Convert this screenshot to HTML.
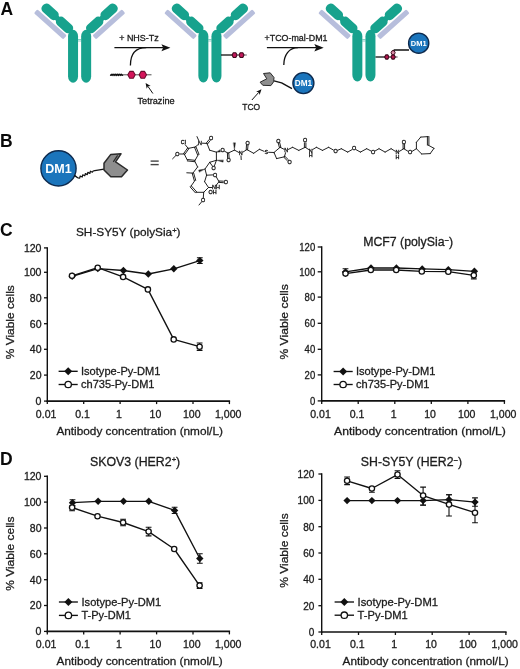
<!DOCTYPE html>
<html lang="en"><head><meta charset="utf-8"><title>Figure</title>
<style>
html,body{margin:0;padding:0;background:#fff;}
svg{display:block;font-family:"Liberation Sans", Arial, Helvetica, sans-serif;}
</style></head>
<body>
<svg width="520" height="669" viewBox="0 0 520 669">
<rect width="520" height="669" fill="#fff"/>
<text x="0.6" y="15.0" font-size="17.5" text-anchor="start" font-weight="bold" fill="#0a0a0a">A</text>
<rect x="-19.69" y="-2.65" width="39.38" height="5.30" rx="1.4" fill="#b7bedc" transform="translate(108.90,24.30) rotate(138.29)"/>
<rect x="-19.69" y="-2.65" width="39.38" height="5.30" rx="1.4" fill="#b7bedc" transform="translate(50.30,24.30) rotate(41.71)"/>
<rect x="-9.63" y="-4.90" width="19.26" height="9.80" rx="4.2" fill="#17a28d" transform="translate(109.12,11.76) rotate(137.62)"/>
<rect x="-9.63" y="-4.90" width="19.26" height="9.80" rx="4.2" fill="#17a28d" transform="translate(94.68,24.94) rotate(137.62)"/>
<rect x="-2.50" y="-2.70" width="5.00" height="5.40" rx="0" fill="#17a28d" transform="translate(101.90,18.35) rotate(137.62)"/>
<rect x="-9.63" y="-4.90" width="19.26" height="9.80" rx="4.2" fill="#17a28d" transform="translate(50.08,11.76) rotate(42.38)"/>
<rect x="-9.63" y="-4.90" width="19.26" height="9.80" rx="4.2" fill="#17a28d" transform="translate(64.52,24.94) rotate(42.38)"/>
<rect x="-2.50" y="-2.70" width="5.00" height="5.40" rx="0" fill="#17a28d" transform="translate(57.30,18.35) rotate(42.38)"/>
<rect x="68.05" y="29.8" width="10" height="52.9" rx="5" ry="6.5" fill="#17a28d"/>
<rect x="81.15" y="29.8" width="10" height="52.9" rx="5" ry="6.5" fill="#17a28d"/>
<line x1="78.0" y1="39.5" x2="81.19999999999999" y2="39.5" stroke="#17a28d" stroke-width="0.5"/>
<line x1="78.0" y1="41" x2="81.19999999999999" y2="41" stroke="#17a28d" stroke-width="0.5"/>
<rect x="-19.69" y="-2.65" width="39.38" height="5.30" rx="1.4" fill="#b7bedc" transform="translate(239.20,24.30) rotate(138.29)"/>
<rect x="-19.69" y="-2.65" width="39.38" height="5.30" rx="1.4" fill="#b7bedc" transform="translate(180.60,24.30) rotate(41.71)"/>
<rect x="-9.63" y="-4.90" width="19.26" height="9.80" rx="4.2" fill="#17a28d" transform="translate(239.42,11.76) rotate(137.62)"/>
<rect x="-9.63" y="-4.90" width="19.26" height="9.80" rx="4.2" fill="#17a28d" transform="translate(224.98,24.94) rotate(137.62)"/>
<rect x="-2.50" y="-2.70" width="5.00" height="5.40" rx="0" fill="#17a28d" transform="translate(232.20,18.35) rotate(137.62)"/>
<rect x="-9.63" y="-4.90" width="19.26" height="9.80" rx="4.2" fill="#17a28d" transform="translate(180.38,11.76) rotate(42.38)"/>
<rect x="-9.63" y="-4.90" width="19.26" height="9.80" rx="4.2" fill="#17a28d" transform="translate(194.82,24.94) rotate(42.38)"/>
<rect x="-2.50" y="-2.70" width="5.00" height="5.40" rx="0" fill="#17a28d" transform="translate(187.60,18.35) rotate(42.38)"/>
<rect x="198.35" y="29.8" width="10" height="52.7" rx="5" ry="6.5" fill="#17a28d"/>
<rect x="211.45" y="29.8" width="10" height="52.7" rx="5" ry="6.5" fill="#17a28d"/>
<line x1="208.3" y1="39.5" x2="211.5" y2="39.5" stroke="#17a28d" stroke-width="0.5"/>
<line x1="208.3" y1="41" x2="211.5" y2="41" stroke="#17a28d" stroke-width="0.5"/>
<rect x="-19.69" y="-2.65" width="39.38" height="5.30" rx="1.4" fill="#b7bedc" transform="translate(393.20,24.30) rotate(138.29)"/>
<rect x="-19.69" y="-2.65" width="39.38" height="5.30" rx="1.4" fill="#b7bedc" transform="translate(334.60,24.30) rotate(41.71)"/>
<rect x="-9.63" y="-4.90" width="19.26" height="9.80" rx="4.2" fill="#17a28d" transform="translate(393.42,11.76) rotate(137.62)"/>
<rect x="-9.63" y="-4.90" width="19.26" height="9.80" rx="4.2" fill="#17a28d" transform="translate(378.98,24.94) rotate(137.62)"/>
<rect x="-2.50" y="-2.70" width="5.00" height="5.40" rx="0" fill="#17a28d" transform="translate(386.20,18.35) rotate(137.62)"/>
<rect x="-9.63" y="-4.90" width="19.26" height="9.80" rx="4.2" fill="#17a28d" transform="translate(334.38,11.76) rotate(42.38)"/>
<rect x="-9.63" y="-4.90" width="19.26" height="9.80" rx="4.2" fill="#17a28d" transform="translate(348.82,24.94) rotate(42.38)"/>
<rect x="-2.50" y="-2.70" width="5.00" height="5.40" rx="0" fill="#17a28d" transform="translate(341.60,18.35) rotate(42.38)"/>
<rect x="352.35" y="29.8" width="10" height="51.7" rx="5" ry="6.5" fill="#17a28d"/>
<rect x="365.45" y="29.8" width="10" height="51.7" rx="5" ry="6.5" fill="#17a28d"/>
<line x1="362.29999999999995" y1="39.5" x2="365.5" y2="39.5" stroke="#17a28d" stroke-width="0.5"/>
<line x1="362.29999999999995" y1="41" x2="365.5" y2="41" stroke="#17a28d" stroke-width="0.5"/>
<text x="119.2" y="41" font-size="8.8" text-anchor="start" font-weight="normal" fill="#1c1c1c" stroke="#1c1c1c" stroke-width="0.3" textLength="39.5" lengthAdjust="spacingAndGlyphs">+ NHS-Tz</text>
<line x1="114.4" y1="47.7" x2="163.2" y2="47.7" stroke="#111" stroke-width="1.3"/><polygon points="170.4,47.7 161.4,51.2 163.2,47.7 161.4,44.2" fill="#111"/>
<path d="M130.4 65.6 C130.4 54 136 47.7 146.2 47.7" fill="none" stroke="#111" stroke-width="1.3"/>
<polyline points="110.2,74.8 111.1,75.3 112.0,74.3 112.9,75.3 113.9,74.3 114.8,75.3 115.7,74.3 116.6,75.3 117.5,74.3 118.4,75.3 119.3,74.3 120.3,75.3 121.2,74.3 122.1,75.3 123.0,74.8" fill="none" stroke="#111" stroke-width="1.6" stroke-linejoin="round"/>
<line x1="123" y1="74.8" x2="151.5" y2="74.8" stroke="#222" stroke-width="0.8"/>
<polygon points="127.8,74.8 129.7,71.4 133.3,71.4 135.2,74.8 133.3,78.2 129.7,78.2" fill="#d4145a" stroke="#6a0d2e" stroke-width="1.1" stroke-linejoin="round"/>
<polygon points="139.2,74.8 141.0,71.4 144.6,71.4 146.5,74.8 144.6,78.2 141.0,78.2" fill="#d4145a" stroke="#6a0d2e" stroke-width="1.1" stroke-linejoin="round"/>
<line x1="152.9" y1="93.5" x2="147.9" y2="86.3" stroke="#111" stroke-width="1.0"/><polygon points="145.6,82.9 150.7,86.1 147.9,86.3 146.7,88.8" fill="#111"/>
<text x="137.5" y="103.7" font-size="8.8" text-anchor="start" font-weight="normal" fill="#1c1c1c" stroke="#1c1c1c" stroke-width="0.3" textLength="37.1" lengthAdjust="spacingAndGlyphs">Tetrazine</text>
<line x1="221" y1="55" x2="232.3" y2="55" stroke="#111" stroke-width="1.3"/>
<line x1="232" y1="55" x2="246.8" y2="55" stroke="#222" stroke-width="0.7"/>
<polygon points="232.1,55.1 233.3,52.7 235.8,52.7 237.1,55.1 235.8,57.5 233.3,57.5" fill="#c2185b" stroke="#3d0a1c" stroke-width="1.1" stroke-linejoin="round"/>
<polygon points="239.0,55.1 240.2,52.7 242.8,52.7 244.0,55.1 242.8,57.5 240.2,57.5" fill="#c2185b" stroke="#3d0a1c" stroke-width="1.1" stroke-linejoin="round"/>
<text x="264.6" y="41" font-size="8.8" text-anchor="start" font-weight="normal" fill="#1c1c1c" stroke="#1c1c1c" stroke-width="0.3" textLength="62.9" lengthAdjust="spacingAndGlyphs">+TCO-mal-DM1</text>
<line x1="266.9" y1="47.7" x2="316.2" y2="47.7" stroke="#111" stroke-width="1.3"/><polygon points="323.7,47.7 314.3,51.4 316.2,47.7 314.3,44.0" fill="#111"/>
<path d="M283.8 65 C283.8 55 289 47.7 298 47.7" fill="none" stroke="#111" stroke-width="1.3"/>
<polygon points="263.5,73.5 270.2,72.8 274,77.5 273.6,81.8 270.9,85.6 262.8,85.3 260.1,82.2 266.8,78.8" fill="#8e8e8e" stroke="#2a2a2a" stroke-width="1.0" stroke-linejoin="round"/>
<polyline points="274,80.9 281.6,82.9 292,88.6" fill="none" stroke="#111" stroke-width="1.4" stroke-linejoin="round"/>
<circle cx="303.4" cy="83.1" r="10.5" fill="#1b75bc" stroke="#0d2a4e" stroke-width="1.4"/><text x="303.4" y="86.088" font-size="8.3" text-anchor="middle" font-weight="bold" fill="#fff" textLength="17.4" lengthAdjust="spacingAndGlyphs">DM1</text>
<line x1="251.9" y1="100.0" x2="258.8" y2="92.3" stroke="#111" stroke-width="1.0"/><polygon points="261.5,89.2 259.6,94.9 258.8,92.3 256.1,91.7" fill="#111"/>
<text x="242.3" y="110.2" font-size="8.6" text-anchor="start" font-weight="normal" fill="#1c1c1c" stroke="#1c1c1c" stroke-width="0.3" textLength="17.9" lengthAdjust="spacingAndGlyphs">TCO</text>
<line x1="375.5" y1="57" x2="385" y2="57" stroke="#111" stroke-width="1.3"/><line x1="385" y1="57" x2="397.6" y2="57" stroke="#222" stroke-width="0.8"/>
<polyline points="393.1,51.2 394.3,50.1 409,50.1" fill="none" stroke="#111" stroke-width="1.5"/>
<polygon points="384.6,57.0 385.7,54.9 387.9,54.9 389.0,57.0 387.9,59.1 385.7,59.1" fill="#b5174f" stroke="#3d0a1c" stroke-width="1.1" stroke-linejoin="round"/>
<polygon points="390.9,57.0 392.0,54.9 394.2,54.9 395.3,57.0 394.2,59.1 392.0,59.1" fill="#b5174f" stroke="#3d0a1c" stroke-width="1.1" stroke-linejoin="round"/>
<polygon points="391.0,52.7 392.1,50.7 394.2,50.7 395.2,52.7 394.2,54.7 392.1,54.7" fill="#d98aa6" stroke="#3d0a1c" stroke-width="1.0" stroke-linejoin="round"/>
<circle cx="418.7" cy="43.2" r="10.1" fill="#1b75bc" stroke="#0d2a4e" stroke-width="1.4"/><text x="418.7" y="46.008" font-size="7.8" text-anchor="middle" font-weight="bold" fill="#fff" textLength="15.8" lengthAdjust="spacingAndGlyphs">DM1</text>
<text x="0" y="146.9" font-size="17.5" text-anchor="start" font-weight="bold" fill="#0a0a0a">B</text>
<circle cx="58.5" cy="168.4" r="17.6" fill="#1b75bc" stroke="#0d2a4e" stroke-width="1.4"/><text x="58.5" y="172.9" font-size="12.5" text-anchor="middle" font-weight="bold" fill="#fff">DM1</text>
<line x1="74.4" y1="175.4" x2="78" y2="178" stroke="#111" stroke-width="1.3"/>
<polyline points="78.0,178.0 79.7,178.2 80.2,176.0 82.2,177.0 82.7,174.8 84.8,175.8 85.3,173.6 87.3,174.6 87.8,172.4 89.9,173.4 90.4,171.2 92.4,172.2 93.3,170.8" fill="none" stroke="#111" stroke-width="1.2" stroke-linejoin="round"/>
<line x1="93.3" y1="170.8" x2="104" y2="169.2" stroke="#111" stroke-width="1.3"/>
<polygon points="104.0,163.3 110.8,154.4 121.0,153.8 115.6,161.9 127.5,170.0 121.5,176.7 110.8,176.7 104.0,170.0" fill="#8e8e8e" stroke="#2a2a2a" stroke-width="1.5" stroke-linejoin="round"/><line x1="117.6" y1="155.4" x2="113.3" y2="161.8" stroke="#2a2a2a" stroke-width="1.2000000000000002"/>
<line x1="150.6" y1="161.1" x2="158.7" y2="161.1" stroke="#444" stroke-width="1.4"/>
<line x1="150.6" y1="164.6" x2="158.7" y2="164.6" stroke="#444" stroke-width="1.4"/>
<g stroke="#161616" stroke-width="0.95" stroke-linecap="round" fill="none">
<line x1="188.2" y1="148.4" x2="195.2" y2="147.0"/>
<line x1="194.5" y1="147.3" x2="197.6" y2="154.9"/>
<line x1="195.9" y1="146.7" x2="199.0" y2="154.3"/>
<line x1="198.3" y1="154.6" x2="194.7" y2="161.0"/>
<line x1="194.8" y1="160.3" x2="187.5" y2="159.5"/>
<line x1="194.6" y1="161.7" x2="187.3" y2="160.9"/>
<line x1="187.4" y1="160.2" x2="184.2" y2="154.0"/>
<line x1="184.8" y1="154.4" x2="188.8" y2="148.8"/>
<line x1="183.6" y1="153.6" x2="187.6" y2="148.0"/>
<line x1="188.2" y1="148.4" x2="185.2" y2="144.7"/>
<line x1="195.2" y1="147.0" x2="198.1" y2="144.6"/>
<line x1="198.9" y1="140.9" x2="197.0" y2="136.6"/>
<line x1="184.2" y1="154.0" x2="179.8" y2="154.0"/>
<line x1="175.7" y1="155.7" x2="172.6" y2="158.8"/>
<line x1="202.3" y1="143.2" x2="207.0" y2="143.4"/>
<line x1="207.6" y1="143.9" x2="210.2" y2="140.6"/>
<line x1="206.4" y1="142.9" x2="209.0" y2="139.7"/>
<line x1="207.0" y1="143.4" x2="209.7" y2="150.2"/>
<line x1="209.7" y1="150.2" x2="216.4" y2="152.2"/>
<polygon points="216.4,152.2 220.5,151.9 219.9,150.0" fill="#222" stroke-width="0.3"/>
<line x1="216.4" y1="152.2" x2="216.4" y2="160.3"/>
<polygon points="216.4,160.3 223.1,162.2 223.3,160.2" fill="#222" stroke-width="0.3"/>
<line x1="216.4" y1="160.3" x2="209.7" y2="162.3"/>
<line x1="216.4" y1="160.3" x2="214.5" y2="165.6"/>
<line x1="209.7" y1="162.3" x2="212.3" y2="165.9"/>
<line x1="209.7" y1="162.3" x2="205.0" y2="169.0"/>
<polygon points="205.0,169.0 198.6,170.0 199.2,172.0" fill="#222" stroke-width="0.3"/>
<line x1="205.0" y1="169.0" x2="206.6" y2="175.2"/>
<line x1="206.6" y1="175.2" x2="212.7" y2="174.9"/>
<line x1="216.3" y1="176.9" x2="219.0" y2="181.7"/>
<line x1="219.0" y1="182.4" x2="223.4" y2="182.7"/>
<line x1="219.0" y1="181.0" x2="223.4" y2="181.2"/>
<line x1="219.0" y1="181.7" x2="215.9" y2="185.6"/>
<line x1="212.0" y1="187.5" x2="208.5" y2="187.5"/>
<line x1="208.5" y1="187.5" x2="204.6" y2="181.7"/>
<line x1="204.6" y1="181.7" x2="206.6" y2="175.2"/>
<line x1="208.5" y1="187.5" x2="203.7" y2="192.3"/>
<line x1="203.7" y1="192.3" x2="203.3" y2="197.8"/>
<line x1="201.5" y1="202.0" x2="199.0" y2="205.0"/>
<line x1="203.7" y1="192.3" x2="196.0" y2="192.3"/>
<line x1="196.6" y1="191.8" x2="191.4" y2="186.0"/>
<line x1="195.4" y1="192.8" x2="190.2" y2="187.0"/>
<line x1="190.8" y1="186.5" x2="195.0" y2="180.4"/>
<line x1="195.7" y1="180.2" x2="193.6" y2="172.9"/>
<line x1="194.3" y1="180.6" x2="192.2" y2="173.3"/>
<line x1="192.9" y1="173.1" x2="186.8" y2="172.8"/>
<line x1="192.9" y1="173.1" x2="197.6" y2="167.0"/>
<line x1="197.6" y1="167.0" x2="194.7" y2="161.0"/>
<line x1="224.6" y1="151.3" x2="228.1" y2="153.1"/>
<line x1="227.4" y1="153.1" x2="227.6" y2="157.9"/>
<line x1="228.8" y1="153.1" x2="229.1" y2="157.9"/>
<line x1="228.1" y1="153.1" x2="234.5" y2="150.1"/>
<polygon points="234.5,150.1 235.5,142.8 233.5,142.8" fill="#222" stroke-width="0.3"/>
<line x1="234.5" y1="150.1" x2="238.7" y2="152.4"/>
<line x1="241.0" y1="155.9" x2="241.2" y2="159.6"/>
<line x1="242.8" y1="152.2" x2="246.9" y2="149.6"/>
<line x1="247.6" y1="149.7" x2="248.0" y2="145.2"/>
<line x1="246.2" y1="149.5" x2="246.5" y2="145.0"/>
<line x1="246.9" y1="149.6" x2="253.7" y2="153.3"/>
<line x1="253.7" y1="153.3" x2="259.4" y2="149.3"/>
<line x1="259.4" y1="149.3" x2="264.0" y2="151.3"/>
<line x1="268.6" y1="152.3" x2="274.0" y2="152.5"/>
<line x1="274.0" y1="152.5" x2="280.1" y2="147.3"/>
<line x1="280.8" y1="147.1" x2="279.7" y2="142.8"/>
<line x1="279.4" y1="147.5" x2="278.3" y2="143.2"/>
<line x1="280.1" y1="147.3" x2="284.1" y2="149.3"/>
<line x1="285.6" y1="152.7" x2="284.4" y2="156.8"/>
<line x1="283.9" y1="157.3" x2="287.4" y2="160.8"/>
<line x1="284.9" y1="156.3" x2="288.4" y2="159.8"/>
<line x1="284.4" y1="156.8" x2="276.6" y2="158.6"/>
<line x1="276.6" y1="158.6" x2="274.0" y2="152.5"/>
<line x1="288.4" y1="149.4" x2="292.6" y2="147.3"/>
<line x1="292.6" y1="147.3" x2="298.8" y2="150.4"/>
<line x1="298.8" y1="150.4" x2="305.2" y2="147.3"/>
<line x1="305.9" y1="147.3" x2="305.9" y2="142.8"/>
<line x1="304.4" y1="147.3" x2="304.4" y2="142.8"/>
<line x1="305.2" y1="147.3" x2="308.7" y2="149.5"/>
<line x1="312.7" y1="149.5" x2="316.4" y2="147.3"/>
<line x1="316.4" y1="147.3" x2="322.5" y2="150.4"/>
<line x1="322.5" y1="150.4" x2="328.6" y2="147.3"/>
<line x1="328.6" y1="147.3" x2="333.4" y2="150.0"/>
<line x1="337.7" y1="150.3" x2="341.3" y2="148.7"/>
<line x1="341.3" y1="148.7" x2="347.7" y2="152.1"/>
<line x1="347.7" y1="152.1" x2="351.9" y2="149.7"/>
<line x1="356.1" y1="149.7" x2="360.4" y2="152.1"/>
<line x1="360.4" y1="152.1" x2="366.7" y2="148.7"/>
<line x1="366.7" y1="148.7" x2="371.0" y2="151.0"/>
<line x1="375.2" y1="150.9" x2="379.0" y2="148.7"/>
<line x1="379.0" y1="148.7" x2="385.1" y2="152.1"/>
<line x1="385.1" y1="152.1" x2="391.1" y2="148.7"/>
<line x1="391.1" y1="148.7" x2="395.3" y2="151.3"/>
<line x1="399.5" y1="151.3" x2="403.8" y2="148.7"/>
<line x1="404.6" y1="148.7" x2="404.6" y2="144.3"/>
<line x1="403.1" y1="148.7" x2="403.1" y2="144.3"/>
<line x1="403.8" y1="148.7" x2="408.0" y2="151.3"/>
<line x1="412.2" y1="151.3" x2="416.4" y2="148.7"/>
<line x1="416.4" y1="148.7" x2="416.4" y2="142.3"/>
<line x1="416.4" y1="142.3" x2="420.7" y2="137.1"/>
<line x1="420.7" y1="137.1" x2="428.1" y2="136.6"/>
<line x1="427.4" y1="136.6" x2="427.4" y2="145.1"/>
<line x1="428.9" y1="136.6" x2="428.9" y2="145.1"/>
<line x1="428.1" y1="145.1" x2="434.0" y2="148.3"/>
<line x1="434.0" y1="148.3" x2="430.2" y2="153.6"/>
<line x1="430.2" y1="153.6" x2="421.7" y2="154.0"/>
<line x1="421.7" y1="154.0" x2="416.4" y2="148.7"/>
</g>
<g font-size="5.4" fill="#111" stroke="#111" stroke-width="0.3" text-anchor="middle">
<text x="183.3" y="144.2">Cl</text>
<text x="199.9" y="144.9">N</text>
<text x="177.4" y="155.8">O</text>
<text x="211.1" y="140.1">O</text>
<text x="222.5" y="152.0">O</text>
<text x="213.7" y="169.7">O</text>
<text x="215.1" y="176.6">O</text>
<text x="225.8" y="183.9">O</text>
<text x="215.9" y="189.3">NH</text>
<text x="212.5" y="193.8">OH</text>
<text x="203.1" y="202.0">O</text>
<text x="228.5" y="162.1">O</text>
<text x="240.8" y="155.3">N</text>
<text x="247.5" y="144.5">O</text>
<text x="266.2" y="154.0">S</text>
<text x="278.4" y="142.5">O</text>
<text x="286.2" y="152.2">N</text>
<text x="289.6" y="163.8">O</text>
<text x="305.2" y="142.2">O</text>
<text x="310.7" y="152.6">N</text><text x="310.7" y="156.8">H</text>
<text x="335.5" y="153.0">O</text>
<text x="354.0" y="150.3">O</text>
<text x="373.1" y="153.9">O</text>
<text x="397.4" y="154.3">N</text><text x="397.4" y="158.5">H</text>
<text x="403.8" y="143.7">O</text>
<text x="410.1" y="154.3">O</text>
</g>
<text x="0" y="236.3" font-size="17.5" text-anchor="start" font-weight="bold" fill="#0a0a0a">C</text>
<line x1="47.3" y1="247.2" x2="47.3" y2="401.9" stroke="#111" stroke-width="1.4"/>
<line x1="46.6" y1="401.1" x2="230.1" y2="401.1" stroke="#111" stroke-width="1.6"/>
<line x1="44.0" y1="401.1" x2="47.3" y2="401.1" stroke="#111" stroke-width="1.3"/>
<text x="41.5" y="404.9" font-size="10.6" text-anchor="end" font-weight="normal" fill="#1c1c1c" stroke="#1c1c1c" stroke-width="0.3" textLength="5.9" lengthAdjust="spacingAndGlyphs">0</text>
<line x1="44.0" y1="375.1" x2="47.3" y2="375.1" stroke="#111" stroke-width="1.3"/>
<text x="41.5" y="378.9" font-size="10.6" text-anchor="end" font-weight="normal" fill="#1c1c1c" stroke="#1c1c1c" stroke-width="0.3" textLength="11.7" lengthAdjust="spacingAndGlyphs">20</text>
<line x1="44.0" y1="349.3" x2="47.3" y2="349.3" stroke="#111" stroke-width="1.3"/>
<text x="41.5" y="353.1" font-size="10.6" text-anchor="end" font-weight="normal" fill="#1c1c1c" stroke="#1c1c1c" stroke-width="0.3" textLength="11.7" lengthAdjust="spacingAndGlyphs">40</text>
<line x1="44.0" y1="323.7" x2="47.3" y2="323.7" stroke="#111" stroke-width="1.3"/>
<text x="41.5" y="327.5" font-size="10.6" text-anchor="end" font-weight="normal" fill="#1c1c1c" stroke="#1c1c1c" stroke-width="0.3" textLength="11.7" lengthAdjust="spacingAndGlyphs">60</text>
<line x1="44.0" y1="297.8" x2="47.3" y2="297.8" stroke="#111" stroke-width="1.3"/>
<text x="41.5" y="301.6" font-size="10.6" text-anchor="end" font-weight="normal" fill="#1c1c1c" stroke="#1c1c1c" stroke-width="0.3" textLength="11.7" lengthAdjust="spacingAndGlyphs">80</text>
<line x1="44.0" y1="272.3" x2="47.3" y2="272.3" stroke="#111" stroke-width="1.3"/>
<text x="41.5" y="276.1" font-size="10.6" text-anchor="end" font-weight="normal" fill="#1c1c1c" stroke="#1c1c1c" stroke-width="0.3" textLength="17.6" lengthAdjust="spacingAndGlyphs">100</text>
<line x1="44.0" y1="247.9" x2="47.3" y2="247.9" stroke="#111" stroke-width="1.3"/>
<text x="41.5" y="251.7" font-size="10.6" text-anchor="end" font-weight="normal" fill="#1c1c1c" stroke="#1c1c1c" stroke-width="0.3" textLength="17.6" lengthAdjust="spacingAndGlyphs">120</text>
<line x1="47.3" y1="401.1" x2="47.3" y2="404.1" stroke="#111" stroke-width="1.3"/>
<text x="46.1" y="418.3" font-size="10.6" text-anchor="middle" font-weight="normal" fill="#1c1c1c" stroke="#1c1c1c" stroke-width="0.3" textLength="20.5" lengthAdjust="spacingAndGlyphs">0.01</text>
<line x1="83.7" y1="401.1" x2="83.7" y2="404.1" stroke="#111" stroke-width="1.3"/>
<text x="82.5" y="418.3" font-size="10.6" text-anchor="middle" font-weight="normal" fill="#1c1c1c" stroke="#1c1c1c" stroke-width="0.3" textLength="14.7" lengthAdjust="spacingAndGlyphs">0.1</text>
<line x1="120.1" y1="401.1" x2="120.1" y2="404.1" stroke="#111" stroke-width="1.3"/>
<text x="118.9" y="418.3" font-size="10.6" text-anchor="middle" font-weight="normal" fill="#1c1c1c" stroke="#1c1c1c" stroke-width="0.3" textLength="5.9" lengthAdjust="spacingAndGlyphs">1</text>
<line x1="156.6" y1="401.1" x2="156.6" y2="404.1" stroke="#111" stroke-width="1.3"/>
<text x="155.4" y="418.3" font-size="10.6" text-anchor="middle" font-weight="normal" fill="#1c1c1c" stroke="#1c1c1c" stroke-width="0.3" textLength="11.7" lengthAdjust="spacingAndGlyphs">10</text>
<line x1="193.0" y1="401.1" x2="193.0" y2="404.1" stroke="#111" stroke-width="1.3"/>
<text x="191.8" y="418.3" font-size="10.6" text-anchor="middle" font-weight="normal" fill="#1c1c1c" stroke="#1c1c1c" stroke-width="0.3" textLength="17.6" lengthAdjust="spacingAndGlyphs">100</text>
<line x1="229.4" y1="401.1" x2="229.4" y2="404.1" stroke="#111" stroke-width="1.3"/>
<text x="228.2" y="418.3" font-size="10.6" text-anchor="middle" font-weight="normal" fill="#1c1c1c" stroke="#1c1c1c" stroke-width="0.3" textLength="26.4" lengthAdjust="spacingAndGlyphs">1,000</text>
<text x="76.0" y="236.2" font-size="11.8" text-anchor="start" font-weight="normal" fill="#1c1c1c" stroke="#1c1c1c" stroke-width="0.3">SH-SY5Y (polySia<tspan dy="-3.4" font-size="7.6">+</tspan><tspan dy="3.4">)</tspan></text>
<text x="56.4" y="435.3" font-size="11.8" text-anchor="start" font-weight="normal" fill="#1c1c1c" stroke="#1c1c1c" stroke-width="0.3" textLength="166.5" lengthAdjust="spacingAndGlyphs">Antibody concentration (nmol/L)</text>
<text transform="translate(14.4,359.2) rotate(-90)" font-size="11.8" fill="#1c1c1c" stroke="#1c1c1c" stroke-width="0.3" textLength="74" lengthAdjust="spacingAndGlyphs">% Viable cells</text>
<polyline points="72.2,276.3 97.8,268.6 123.4,270.5 148.3,274.0 173.8,268.8 199.8,260.6" fill="none" stroke="#111" stroke-width="1.35" stroke-linejoin="round"/>
<path d="M199.8 257.7 V263.5 M196.9 257.7 h5.8 M196.9 263.5 h5.8" stroke="#111" stroke-width="1.1" fill="none"/>
<polygon points="68.5,276.3 72.2,272.6 75.9,276.3 72.2,280.0" fill="#111"/>
<polygon points="94.1,268.6 97.8,264.9 101.5,268.6 97.8,272.3" fill="#111"/>
<polygon points="119.7,270.5 123.4,266.8 127.1,270.5 123.4,274.2" fill="#111"/>
<polygon points="144.6,274.0 148.3,270.3 152.0,274.0 148.3,277.7" fill="#111"/>
<polygon points="170.1,268.8 173.8,265.1 177.5,268.8 173.8,272.5" fill="#111"/>
<polygon points="196.1,260.6 199.8,256.9 203.5,260.6 199.8,264.3" fill="#111"/>
<polyline points="72.0,275.8 97.7,267.7 123.1,276.9 147.9,289.4 173.7,339.4 199.6,346.7" fill="none" stroke="#111" stroke-width="1.35" stroke-linejoin="round"/>
<path d="M199.6 343.0 V350.4 M196.7 343.0 h5.8 M196.7 350.4 h5.8" stroke="#111" stroke-width="1.1" fill="none"/>
<circle cx="72.0" cy="275.8" r="2.65" fill="#fff" stroke="#111" stroke-width="1.3"/>
<circle cx="97.7" cy="267.7" r="2.65" fill="#fff" stroke="#111" stroke-width="1.3"/>
<circle cx="123.1" cy="276.9" r="2.65" fill="#fff" stroke="#111" stroke-width="1.3"/>
<circle cx="147.9" cy="289.4" r="2.65" fill="#fff" stroke="#111" stroke-width="1.3"/>
<circle cx="173.7" cy="339.4" r="2.65" fill="#fff" stroke="#111" stroke-width="1.3"/>
<circle cx="199.6" cy="346.7" r="2.65" fill="#fff" stroke="#111" stroke-width="1.3"/>
<line x1="58.6" y1="371.3" x2="77.7" y2="371.3" stroke="#111" stroke-width="1.35"/>
<polygon points="64.2,371.3 68.2,367.3 72.2,371.3 68.2,375.3" fill="#111"/>
<text x="81.0" y="374.9" font-size="11.1" text-anchor="start" font-weight="normal" fill="#1c1c1c" stroke="#1c1c1c" stroke-width="0.3" textLength="79.4" lengthAdjust="spacingAndGlyphs">Isotype-Py-DM1</text>
<line x1="58.6" y1="384.5" x2="77.7" y2="384.5" stroke="#111" stroke-width="1.35"/>
<circle cx="68.2" cy="384.5" r="3.2" fill="#fff" stroke="#111" stroke-width="1.3"/>
<text x="81.0" y="388.3" font-size="11.1" text-anchor="start" font-weight="normal" fill="#1c1c1c" stroke="#1c1c1c" stroke-width="0.3" textLength="73.5" lengthAdjust="spacingAndGlyphs">ch735-Py-DM1</text>
<line x1="321.7" y1="246.3" x2="321.7" y2="401.7" stroke="#111" stroke-width="1.4"/>
<line x1="321.0" y1="400.9" x2="505.1" y2="400.9" stroke="#111" stroke-width="1.6"/>
<line x1="317.7" y1="400.9" x2="321.7" y2="400.9" stroke="#111" stroke-width="1.3"/>
<text x="315.2" y="404.7" font-size="10.4" text-anchor="end" font-weight="normal" fill="#1c1c1c" stroke="#1c1c1c" stroke-width="0.3" textLength="5.3" lengthAdjust="spacingAndGlyphs">0</text>
<line x1="317.7" y1="374.9" x2="321.7" y2="374.9" stroke="#111" stroke-width="1.3"/>
<text x="315.2" y="378.7" font-size="10.4" text-anchor="end" font-weight="normal" fill="#1c1c1c" stroke="#1c1c1c" stroke-width="0.3" textLength="10.6" lengthAdjust="spacingAndGlyphs">20</text>
<line x1="317.7" y1="349.3" x2="321.7" y2="349.3" stroke="#111" stroke-width="1.3"/>
<text x="315.2" y="353.1" font-size="10.4" text-anchor="end" font-weight="normal" fill="#1c1c1c" stroke="#1c1c1c" stroke-width="0.3" textLength="10.6" lengthAdjust="spacingAndGlyphs">40</text>
<line x1="317.7" y1="323.3" x2="321.7" y2="323.3" stroke="#111" stroke-width="1.3"/>
<text x="315.2" y="327.1" font-size="10.4" text-anchor="end" font-weight="normal" fill="#1c1c1c" stroke="#1c1c1c" stroke-width="0.3" textLength="10.6" lengthAdjust="spacingAndGlyphs">60</text>
<line x1="317.7" y1="297.1" x2="321.7" y2="297.1" stroke="#111" stroke-width="1.3"/>
<text x="315.2" y="300.9" font-size="10.4" text-anchor="end" font-weight="normal" fill="#1c1c1c" stroke="#1c1c1c" stroke-width="0.3" textLength="10.6" lengthAdjust="spacingAndGlyphs">80</text>
<line x1="317.7" y1="271.8" x2="321.7" y2="271.8" stroke="#111" stroke-width="1.3"/>
<text x="315.2" y="275.6" font-size="10.4" text-anchor="end" font-weight="normal" fill="#1c1c1c" stroke="#1c1c1c" stroke-width="0.3" textLength="15.9" lengthAdjust="spacingAndGlyphs">100</text>
<line x1="317.7" y1="247.0" x2="321.7" y2="247.0" stroke="#111" stroke-width="1.3"/>
<text x="315.2" y="250.8" font-size="10.4" text-anchor="end" font-weight="normal" fill="#1c1c1c" stroke="#1c1c1c" stroke-width="0.3" textLength="15.9" lengthAdjust="spacingAndGlyphs">120</text>
<line x1="321.7" y1="400.9" x2="321.7" y2="403.9" stroke="#111" stroke-width="1.3"/>
<text x="320.5" y="418.3" font-size="10.4" text-anchor="middle" font-weight="normal" fill="#1c1c1c" stroke="#1c1c1c" stroke-width="0.3" textLength="20.5" lengthAdjust="spacingAndGlyphs">0.01</text>
<line x1="358.2" y1="400.9" x2="358.2" y2="403.9" stroke="#111" stroke-width="1.3"/>
<text x="357.0" y="418.3" font-size="10.4" text-anchor="middle" font-weight="normal" fill="#1c1c1c" stroke="#1c1c1c" stroke-width="0.3" textLength="14.7" lengthAdjust="spacingAndGlyphs">0.1</text>
<line x1="394.8" y1="400.9" x2="394.8" y2="403.9" stroke="#111" stroke-width="1.3"/>
<text x="393.6" y="418.3" font-size="10.4" text-anchor="middle" font-weight="normal" fill="#1c1c1c" stroke="#1c1c1c" stroke-width="0.3" textLength="5.9" lengthAdjust="spacingAndGlyphs">1</text>
<line x1="431.3" y1="400.9" x2="431.3" y2="403.9" stroke="#111" stroke-width="1.3"/>
<text x="430.1" y="418.3" font-size="10.4" text-anchor="middle" font-weight="normal" fill="#1c1c1c" stroke="#1c1c1c" stroke-width="0.3" textLength="11.7" lengthAdjust="spacingAndGlyphs">10</text>
<line x1="467.9" y1="400.9" x2="467.9" y2="403.9" stroke="#111" stroke-width="1.3"/>
<text x="466.7" y="418.3" font-size="10.4" text-anchor="middle" font-weight="normal" fill="#1c1c1c" stroke="#1c1c1c" stroke-width="0.3" textLength="17.6" lengthAdjust="spacingAndGlyphs">100</text>
<line x1="504.4" y1="400.9" x2="504.4" y2="403.9" stroke="#111" stroke-width="1.3"/>
<text x="503.2" y="418.3" font-size="10.4" text-anchor="middle" font-weight="normal" fill="#1c1c1c" stroke="#1c1c1c" stroke-width="0.3" textLength="26.4" lengthAdjust="spacingAndGlyphs">1,000</text>
<text x="363.2" y="246.3" font-size="12.3" text-anchor="start" font-weight="normal" fill="#1c1c1c" stroke="#1c1c1c" stroke-width="0.3">MCF7 (polySia<tspan dy="-3.4" font-size="7.6">−</tspan><tspan dy="3.4">)</tspan></text>
<text x="334.1" y="435.1" font-size="11.8" text-anchor="start" font-weight="normal" fill="#1c1c1c" stroke="#1c1c1c" stroke-width="0.3" textLength="171.8" lengthAdjust="spacingAndGlyphs">Antibody concentration (nmol/L)</text>
<text transform="translate(287.9,359.6) rotate(-90)" font-size="11.8" fill="#1c1c1c" stroke="#1c1c1c" stroke-width="0.3" textLength="75.4" lengthAdjust="spacingAndGlyphs">% Viable cells</text>
<polyline points="345.5,271.9 371.0,268.0 396.4,268.0 422.2,268.9 448.3,269.7 474.4,271.3" fill="none" stroke="#111" stroke-width="1.35" stroke-linejoin="round"/>
<path d="M345.5 268.8 V271.9 M342.6 268.8 h5.8 M342.6 271.9 h5.8" stroke="#111" stroke-width="1.1" fill="none"/>
<polygon points="341.8,271.9 345.5,268.2 349.2,271.9 345.5,275.6" fill="#111"/>
<polygon points="367.3,268.0 371.0,264.3 374.7,268.0 371.0,271.7" fill="#111"/>
<polygon points="392.7,268.0 396.4,264.3 400.1,268.0 396.4,271.7" fill="#111"/>
<polygon points="418.5,268.9 422.2,265.2 425.9,268.9 422.2,272.6" fill="#111"/>
<polygon points="444.6,269.7 448.3,266.0 452.0,269.7 448.3,273.4" fill="#111"/>
<polygon points="470.7,271.3 474.4,267.6 478.1,271.3 474.4,275.0" fill="#111"/>
<polyline points="345.5,273.6 370.8,270.0 396.2,270.0 421.8,271.4 448.3,271.7 473.8,275.3" fill="none" stroke="#111" stroke-width="1.35" stroke-linejoin="round"/>
<path d="M473.8 275.3 V278.9 M470.9 275.3 h5.8 M470.9 278.9 h5.8" stroke="#111" stroke-width="1.1" fill="none"/>
<circle cx="345.5" cy="273.6" r="2.65" fill="#fff" stroke="#111" stroke-width="1.3"/>
<circle cx="370.8" cy="270.0" r="2.65" fill="#fff" stroke="#111" stroke-width="1.3"/>
<circle cx="396.2" cy="270.0" r="2.65" fill="#fff" stroke="#111" stroke-width="1.3"/>
<circle cx="421.8" cy="271.4" r="2.65" fill="#fff" stroke="#111" stroke-width="1.3"/>
<circle cx="448.3" cy="271.7" r="2.65" fill="#fff" stroke="#111" stroke-width="1.3"/>
<circle cx="473.8" cy="275.3" r="2.65" fill="#fff" stroke="#111" stroke-width="1.3"/>
<line x1="333.6" y1="371.5" x2="352.7" y2="371.5" stroke="#111" stroke-width="1.35"/>
<polygon points="339.1,371.5 343.1,367.5 347.1,371.5 343.1,375.5" fill="#111"/>
<text x="356.0" y="374.9" font-size="11.1" text-anchor="start" font-weight="normal" fill="#1c1c1c" stroke="#1c1c1c" stroke-width="0.3" textLength="79.4" lengthAdjust="spacingAndGlyphs">Isotype-Py-DM1</text>
<line x1="333.6" y1="384.5" x2="352.7" y2="384.5" stroke="#111" stroke-width="1.35"/>
<circle cx="343.1" cy="384.5" r="3.2" fill="#fff" stroke="#111" stroke-width="1.3"/>
<text x="356.0" y="388.3" font-size="11.1" text-anchor="start" font-weight="normal" fill="#1c1c1c" stroke="#1c1c1c" stroke-width="0.3" textLength="73.5" lengthAdjust="spacingAndGlyphs">ch735-Py-DM1</text>
<text x="0" y="464.6" font-size="17.5" text-anchor="start" font-weight="bold" fill="#0a0a0a">D</text>
<line x1="47.3" y1="475.6" x2="47.3" y2="632.2" stroke="#111" stroke-width="1.4"/>
<line x1="46.6" y1="631.4" x2="230.1" y2="631.4" stroke="#111" stroke-width="1.6"/>
<line x1="44.0" y1="631.4" x2="47.3" y2="631.4" stroke="#111" stroke-width="1.3"/>
<text x="41.5" y="635.2" font-size="10.6" text-anchor="end" font-weight="normal" fill="#1c1c1c" stroke="#1c1c1c" stroke-width="0.3" textLength="5.9" lengthAdjust="spacingAndGlyphs">0</text>
<line x1="44.0" y1="605.5" x2="47.3" y2="605.5" stroke="#111" stroke-width="1.3"/>
<text x="41.5" y="609.3" font-size="10.6" text-anchor="end" font-weight="normal" fill="#1c1c1c" stroke="#1c1c1c" stroke-width="0.3" textLength="11.7" lengthAdjust="spacingAndGlyphs">20</text>
<line x1="44.0" y1="579.7" x2="47.3" y2="579.7" stroke="#111" stroke-width="1.3"/>
<text x="41.5" y="583.5" font-size="10.6" text-anchor="end" font-weight="normal" fill="#1c1c1c" stroke="#1c1c1c" stroke-width="0.3" textLength="11.7" lengthAdjust="spacingAndGlyphs">40</text>
<line x1="44.0" y1="553.8" x2="47.3" y2="553.8" stroke="#111" stroke-width="1.3"/>
<text x="41.5" y="557.6" font-size="10.6" text-anchor="end" font-weight="normal" fill="#1c1c1c" stroke="#1c1c1c" stroke-width="0.3" textLength="11.7" lengthAdjust="spacingAndGlyphs">60</text>
<line x1="44.0" y1="528.0" x2="47.3" y2="528.0" stroke="#111" stroke-width="1.3"/>
<text x="41.5" y="531.8" font-size="10.6" text-anchor="end" font-weight="normal" fill="#1c1c1c" stroke="#1c1c1c" stroke-width="0.3" textLength="11.7" lengthAdjust="spacingAndGlyphs">80</text>
<line x1="44.0" y1="502.1" x2="47.3" y2="502.1" stroke="#111" stroke-width="1.3"/>
<text x="41.5" y="505.9" font-size="10.6" text-anchor="end" font-weight="normal" fill="#1c1c1c" stroke="#1c1c1c" stroke-width="0.3" textLength="17.6" lengthAdjust="spacingAndGlyphs">100</text>
<line x1="44.0" y1="476.3" x2="47.3" y2="476.3" stroke="#111" stroke-width="1.3"/>
<text x="41.5" y="480.1" font-size="10.6" text-anchor="end" font-weight="normal" fill="#1c1c1c" stroke="#1c1c1c" stroke-width="0.3" textLength="17.6" lengthAdjust="spacingAndGlyphs">120</text>
<line x1="47.3" y1="631.4" x2="47.3" y2="634.4" stroke="#111" stroke-width="1.3"/>
<text x="46.1" y="648.4" font-size="10.6" text-anchor="middle" font-weight="normal" fill="#1c1c1c" stroke="#1c1c1c" stroke-width="0.3" textLength="20.5" lengthAdjust="spacingAndGlyphs">0.01</text>
<line x1="83.7" y1="631.4" x2="83.7" y2="634.4" stroke="#111" stroke-width="1.3"/>
<text x="82.5" y="648.4" font-size="10.6" text-anchor="middle" font-weight="normal" fill="#1c1c1c" stroke="#1c1c1c" stroke-width="0.3" textLength="14.7" lengthAdjust="spacingAndGlyphs">0.1</text>
<line x1="120.1" y1="631.4" x2="120.1" y2="634.4" stroke="#111" stroke-width="1.3"/>
<text x="118.9" y="648.4" font-size="10.6" text-anchor="middle" font-weight="normal" fill="#1c1c1c" stroke="#1c1c1c" stroke-width="0.3" textLength="5.9" lengthAdjust="spacingAndGlyphs">1</text>
<line x1="156.6" y1="631.4" x2="156.6" y2="634.4" stroke="#111" stroke-width="1.3"/>
<text x="155.4" y="648.4" font-size="10.6" text-anchor="middle" font-weight="normal" fill="#1c1c1c" stroke="#1c1c1c" stroke-width="0.3" textLength="11.7" lengthAdjust="spacingAndGlyphs">10</text>
<line x1="193.0" y1="631.4" x2="193.0" y2="634.4" stroke="#111" stroke-width="1.3"/>
<text x="191.8" y="648.4" font-size="10.6" text-anchor="middle" font-weight="normal" fill="#1c1c1c" stroke="#1c1c1c" stroke-width="0.3" textLength="17.6" lengthAdjust="spacingAndGlyphs">100</text>
<line x1="229.4" y1="631.4" x2="229.4" y2="634.4" stroke="#111" stroke-width="1.3"/>
<text x="228.2" y="648.4" font-size="10.6" text-anchor="middle" font-weight="normal" fill="#1c1c1c" stroke="#1c1c1c" stroke-width="0.3" textLength="26.4" lengthAdjust="spacingAndGlyphs">1,000</text>
<text x="90.0" y="465.7" font-size="12.35" text-anchor="start" font-weight="normal" fill="#1c1c1c" stroke="#1c1c1c" stroke-width="0.3">SKOV3 (HER2<tspan dy="-3.4" font-size="7.6">+</tspan><tspan dy="3.4">)</tspan></text>
<text x="56.6" y="665.0" font-size="11.8" text-anchor="start" font-weight="normal" fill="#1c1c1c" stroke="#1c1c1c" stroke-width="0.3" textLength="166.2" lengthAdjust="spacingAndGlyphs">Antibody concentration (nmol/L)</text>
<text transform="translate(14.4,590.8) rotate(-90)" font-size="11.8" fill="#1c1c1c" stroke="#1c1c1c" stroke-width="0.3" textLength="74.3" lengthAdjust="spacingAndGlyphs">% Viable cells</text>
<polyline points="72.5,502.7 98.1,501.3 123.5,501.3 148.8,501.3 174.6,510.4 199.8,558.5" fill="none" stroke="#111" stroke-width="1.35" stroke-linejoin="round"/>
<path d="M72.5 499.8 V505.6 M69.6 499.8 h5.8 M69.6 505.6 h5.8" stroke="#111" stroke-width="1.1" fill="none"/>
<path d="M174.6 507.3 V513.5 M171.7 507.3 h5.8 M171.7 513.5 h5.8" stroke="#111" stroke-width="1.1" fill="none"/>
<path d="M199.8 553.7 V563.3 M196.9 553.7 h5.8 M196.9 563.3 h5.8" stroke="#111" stroke-width="1.1" fill="none"/>
<polygon points="68.8,502.7 72.5,499.0 76.2,502.7 72.5,506.4" fill="#111"/>
<polygon points="94.4,501.3 98.1,497.6 101.8,501.3 98.1,505.0" fill="#111"/>
<polygon points="119.8,501.3 123.5,497.6 127.2,501.3 123.5,505.0" fill="#111"/>
<polygon points="145.1,501.3 148.8,497.6 152.5,501.3 148.8,505.0" fill="#111"/>
<polygon points="170.9,510.4 174.6,506.7 178.3,510.4 174.6,514.1" fill="#111"/>
<polygon points="196.1,558.5 199.8,554.8 203.5,558.5 199.8,562.2" fill="#111"/>
<polyline points="72.1,507.5 97.5,516.2 123.1,522.5 148.6,531.6 174.2,549.0 199.6,585.6" fill="none" stroke="#111" stroke-width="1.35" stroke-linejoin="round"/>
<path d="M72.1 507.5 V510.8 M69.2 507.5 h5.8 M69.2 510.8 h5.8" stroke="#111" stroke-width="1.1" fill="none"/>
<path d="M123.1 519.2 V525.8 M120.2 519.2 h5.8 M120.2 525.8 h5.8" stroke="#111" stroke-width="1.1" fill="none"/>
<path d="M148.6 527.3 V535.9 M145.7 527.3 h5.8 M145.7 535.9 h5.8" stroke="#111" stroke-width="1.1" fill="none"/>
<path d="M199.6 582.7 V588.5 M196.7 582.7 h5.8 M196.7 588.5 h5.8" stroke="#111" stroke-width="1.1" fill="none"/>
<circle cx="72.1" cy="507.5" r="2.65" fill="#fff" stroke="#111" stroke-width="1.3"/>
<circle cx="97.5" cy="516.2" r="2.65" fill="#fff" stroke="#111" stroke-width="1.3"/>
<circle cx="123.1" cy="522.5" r="2.65" fill="#fff" stroke="#111" stroke-width="1.3"/>
<circle cx="148.6" cy="531.6" r="2.65" fill="#fff" stroke="#111" stroke-width="1.3"/>
<circle cx="174.2" cy="549.0" r="2.65" fill="#fff" stroke="#111" stroke-width="1.3"/>
<circle cx="199.6" cy="585.6" r="2.65" fill="#fff" stroke="#111" stroke-width="1.3"/>
<line x1="58.9" y1="602.0" x2="77.9" y2="602.0" stroke="#111" stroke-width="1.35"/>
<polygon points="64.4,602.0 68.4,598.0 72.4,602.0 68.4,606.0" fill="#111"/>
<text x="81.5" y="605.6" font-size="11.1" text-anchor="start" font-weight="normal" fill="#1c1c1c" stroke="#1c1c1c" stroke-width="0.3" textLength="79.7" lengthAdjust="spacingAndGlyphs">Isotype-Py-DM1</text>
<line x1="58.9" y1="615.4" x2="77.9" y2="615.4" stroke="#111" stroke-width="1.35"/>
<circle cx="68.4" cy="615.4" r="3.2" fill="#fff" stroke="#111" stroke-width="1.3"/>
<text x="81.5" y="619.0" font-size="11.1" text-anchor="start" font-weight="normal" fill="#1c1c1c" stroke="#1c1c1c" stroke-width="0.3" textLength="49.4" lengthAdjust="spacingAndGlyphs">T-Py-DM1</text>
<line x1="321.7" y1="473.3" x2="321.7" y2="632.8" stroke="#111" stroke-width="1.4"/>
<line x1="321.0" y1="632.0" x2="506.6" y2="632.0" stroke="#111" stroke-width="1.6"/>
<line x1="318.4" y1="632.0" x2="321.7" y2="632.0" stroke="#111" stroke-width="1.3"/>
<text x="314.4" y="635.8" font-size="10.6" text-anchor="end" font-weight="normal" fill="#1c1c1c" stroke="#1c1c1c" stroke-width="0.3" textLength="5.6" lengthAdjust="spacingAndGlyphs">0</text>
<line x1="318.4" y1="605.7" x2="321.7" y2="605.7" stroke="#111" stroke-width="1.3"/>
<text x="314.4" y="609.5" font-size="10.6" text-anchor="end" font-weight="normal" fill="#1c1c1c" stroke="#1c1c1c" stroke-width="0.3" textLength="11.2" lengthAdjust="spacingAndGlyphs">20</text>
<line x1="318.4" y1="579.3" x2="321.7" y2="579.3" stroke="#111" stroke-width="1.3"/>
<text x="314.4" y="583.1" font-size="10.6" text-anchor="end" font-weight="normal" fill="#1c1c1c" stroke="#1c1c1c" stroke-width="0.3" textLength="11.2" lengthAdjust="spacingAndGlyphs">40</text>
<line x1="318.4" y1="553.0" x2="321.7" y2="553.0" stroke="#111" stroke-width="1.3"/>
<text x="314.4" y="556.8" font-size="10.6" text-anchor="end" font-weight="normal" fill="#1c1c1c" stroke="#1c1c1c" stroke-width="0.3" textLength="11.2" lengthAdjust="spacingAndGlyphs">60</text>
<line x1="318.4" y1="526.7" x2="321.7" y2="526.7" stroke="#111" stroke-width="1.3"/>
<text x="314.4" y="530.5" font-size="10.6" text-anchor="end" font-weight="normal" fill="#1c1c1c" stroke="#1c1c1c" stroke-width="0.3" textLength="11.2" lengthAdjust="spacingAndGlyphs">80</text>
<line x1="318.4" y1="500.4" x2="321.7" y2="500.4" stroke="#111" stroke-width="1.3"/>
<text x="314.4" y="504.2" font-size="10.6" text-anchor="end" font-weight="normal" fill="#1c1c1c" stroke="#1c1c1c" stroke-width="0.3" textLength="16.8" lengthAdjust="spacingAndGlyphs">100</text>
<line x1="318.4" y1="474.0" x2="321.7" y2="474.0" stroke="#111" stroke-width="1.3"/>
<text x="314.4" y="477.8" font-size="10.6" text-anchor="end" font-weight="normal" fill="#1c1c1c" stroke="#1c1c1c" stroke-width="0.3" textLength="16.8" lengthAdjust="spacingAndGlyphs">120</text>
<line x1="321.7" y1="632.0" x2="321.7" y2="635.0" stroke="#111" stroke-width="1.3"/>
<text x="320.5" y="648.0" font-size="10.6" text-anchor="middle" font-weight="normal" fill="#1c1c1c" stroke="#1c1c1c" stroke-width="0.3" textLength="20.5" lengthAdjust="spacingAndGlyphs">0.01</text>
<line x1="358.5" y1="632.0" x2="358.5" y2="635.0" stroke="#111" stroke-width="1.3"/>
<text x="357.3" y="648.0" font-size="10.6" text-anchor="middle" font-weight="normal" fill="#1c1c1c" stroke="#1c1c1c" stroke-width="0.3" textLength="14.7" lengthAdjust="spacingAndGlyphs">0.1</text>
<line x1="395.4" y1="632.0" x2="395.4" y2="635.0" stroke="#111" stroke-width="1.3"/>
<text x="394.2" y="648.0" font-size="10.6" text-anchor="middle" font-weight="normal" fill="#1c1c1c" stroke="#1c1c1c" stroke-width="0.3" textLength="5.9" lengthAdjust="spacingAndGlyphs">1</text>
<line x1="432.2" y1="632.0" x2="432.2" y2="635.0" stroke="#111" stroke-width="1.3"/>
<text x="431.0" y="648.0" font-size="10.6" text-anchor="middle" font-weight="normal" fill="#1c1c1c" stroke="#1c1c1c" stroke-width="0.3" textLength="11.7" lengthAdjust="spacingAndGlyphs">10</text>
<line x1="469.1" y1="632.0" x2="469.1" y2="635.0" stroke="#111" stroke-width="1.3"/>
<text x="467.9" y="648.0" font-size="10.6" text-anchor="middle" font-weight="normal" fill="#1c1c1c" stroke="#1c1c1c" stroke-width="0.3" textLength="17.6" lengthAdjust="spacingAndGlyphs">100</text>
<line x1="505.9" y1="632.0" x2="505.9" y2="635.0" stroke="#111" stroke-width="1.3"/>
<text x="504.7" y="648.0" font-size="10.6" text-anchor="middle" font-weight="normal" fill="#1c1c1c" stroke="#1c1c1c" stroke-width="0.3" textLength="26.4" lengthAdjust="spacingAndGlyphs">1,000</text>
<text x="360.8" y="465.9" font-size="12.3" text-anchor="start" font-weight="normal" fill="#1c1c1c" stroke="#1c1c1c" stroke-width="0.3">SH-SY5Y (HER2<tspan dy="-3.4" font-size="7.6">−</tspan><tspan dy="3.4">)</tspan></text>
<text x="342.6" y="665.1" font-size="11.8" text-anchor="start" font-weight="normal" fill="#1c1c1c" stroke="#1c1c1c" stroke-width="0.3" textLength="166.0" lengthAdjust="spacingAndGlyphs">Antibody concentration (nmol/L)</text>
<text transform="translate(287.9,587.8) rotate(-90)" font-size="11.8" fill="#1c1c1c" stroke="#1c1c1c" stroke-width="0.3" textLength="74.5" lengthAdjust="spacingAndGlyphs">% Viable cells</text>
<polyline points="347.1,500.6 371.9,500.6 397.5,500.6 423.1,500.6 449.0,499.6 475.0,502.1" fill="none" stroke="#111" stroke-width="1.35" stroke-linejoin="round"/>
<path d="M423.1 500.6 V505.2 M420.2 500.6 h5.8 M420.2 505.2 h5.8" stroke="#111" stroke-width="1.1" fill="none"/>
<path d="M449.0 494.8 V504.4 M446.1 494.8 h5.8 M446.1 504.4 h5.8" stroke="#111" stroke-width="1.1" fill="none"/>
<path d="M475.0 497.9 V506.3 M472.1 497.9 h5.8 M472.1 506.3 h5.8" stroke="#111" stroke-width="1.1" fill="none"/>
<polygon points="343.4,500.6 347.1,496.9 350.8,500.6 347.1,504.3" fill="#111"/>
<polygon points="368.2,500.6 371.9,496.9 375.6,500.6 371.9,504.3" fill="#111"/>
<polygon points="393.8,500.6 397.5,496.9 401.2,500.6 397.5,504.3" fill="#111"/>
<polygon points="419.4,500.6 423.1,496.9 426.8,500.6 423.1,504.3" fill="#111"/>
<polygon points="445.3,499.6 449.0,495.9 452.7,499.6 449.0,503.3" fill="#111"/>
<polygon points="471.3,502.1 475.0,498.4 478.7,502.1 475.0,505.8" fill="#111"/>
<polyline points="347.1,480.8 371.9,488.5 397.5,474.6 423.1,495.6 449.0,504.4 475.0,512.7" fill="none" stroke="#111" stroke-width="1.35" stroke-linejoin="round"/>
<path d="M347.1 477.0 V484.6 M344.2 477.0 h5.8 M344.2 484.6 h5.8" stroke="#111" stroke-width="1.1" fill="none"/>
<path d="M371.9 488.5 V492.3 M369.0 488.5 h5.8 M369.0 492.3 h5.8" stroke="#111" stroke-width="1.1" fill="none"/>
<path d="M397.5 470.8 V478.4 M394.6 470.8 h5.8 M394.6 478.4 h5.8" stroke="#111" stroke-width="1.1" fill="none"/>
<path d="M423.1 487.1 V505.0 M420.2 487.1 h5.8 M420.2 505.0 h5.8" stroke="#111" stroke-width="1.1" fill="none"/>
<path d="M449.0 494.8 V516.0 M446.1 494.8 h5.8 M446.1 516.0 h5.8" stroke="#111" stroke-width="1.1" fill="none"/>
<path d="M475.0 502.5 V522.7 M472.1 502.5 h5.8 M472.1 522.7 h5.8" stroke="#111" stroke-width="1.1" fill="none"/>
<circle cx="347.1" cy="480.8" r="2.65" fill="#fff" stroke="#111" stroke-width="1.3"/>
<circle cx="371.9" cy="488.5" r="2.65" fill="#fff" stroke="#111" stroke-width="1.3"/>
<circle cx="397.5" cy="474.6" r="2.65" fill="#fff" stroke="#111" stroke-width="1.3"/>
<circle cx="423.1" cy="495.6" r="2.65" fill="#fff" stroke="#111" stroke-width="1.3"/>
<circle cx="449.0" cy="504.4" r="2.65" fill="#fff" stroke="#111" stroke-width="1.3"/>
<circle cx="475.0" cy="512.7" r="2.65" fill="#fff" stroke="#111" stroke-width="1.3"/>
<line x1="334.6" y1="602.0" x2="354.0" y2="602.0" stroke="#111" stroke-width="1.35"/>
<polygon points="340.3,602.0 344.3,598.0 348.3,602.0 344.3,606.0" fill="#111"/>
<text x="357.6" y="605.6" font-size="11.1" text-anchor="start" font-weight="normal" fill="#1c1c1c" stroke="#1c1c1c" stroke-width="0.3" textLength="80.4" lengthAdjust="spacingAndGlyphs">Isotype-Py-DM1</text>
<line x1="334.6" y1="615.2" x2="354.0" y2="615.2" stroke="#111" stroke-width="1.35"/>
<circle cx="344.3" cy="615.2" r="3.2" fill="#fff" stroke="#111" stroke-width="1.3"/>
<text x="357.6" y="618.8" font-size="11.1" text-anchor="start" font-weight="normal" fill="#1c1c1c" stroke="#1c1c1c" stroke-width="0.3" textLength="50.1" lengthAdjust="spacingAndGlyphs">T-Py-DM1</text>
</svg>
</body></html>
